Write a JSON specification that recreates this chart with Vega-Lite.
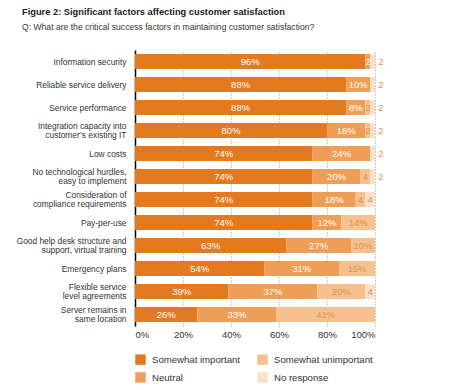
{
  "$schema": "https://vega.github.io/schema/vega-lite/v6.json",
  "width": 240,
  "height": 276,
  "autosize": {"type": "none"},
  "padding": {"left": 135, "top": 50, "right": 99, "bottom": 64},
  "background": "white",
  "config": {
    "font": "Liberation Sans",
    "view": {"stroke": null}
  },
  "title": {
    "text": "Figure 2: Significant factors affecting customer satisfaction",
    "subtitle": "Q: What are the critical success factors in maintaining customer satisfaction?",
    "anchor": "start",
    "frame": "group",
    "dx": -113,
    "offset": 18,
    "font": "Liberation Sans",
    "fontSize": 9.3,
    "fontWeight": "bold",
    "color": "#1a1a1a",
    "subtitleFont": "Liberation Sans",
    "subtitleFontSize": 8.6,
    "subtitleColor": "#333333",
    "subtitlePadding": 6
  },
  "data": {
    "values": [
      {"factor": "Information security", "response": "Somewhat important", "value": 96},
      {"factor": "Information security", "response": "Neutral", "value": 2},
      {"factor": "Information security", "response": "No response", "value": 2},
      {"factor": "Reliable service delivery", "response": "Somewhat important", "value": 88},
      {"factor": "Reliable service delivery", "response": "Neutral", "value": 10},
      {"factor": "Reliable service delivery", "response": "No response", "value": 2},
      {"factor": "Service performance", "response": "Somewhat important", "value": 88},
      {"factor": "Service performance", "response": "Neutral", "value": 8},
      {"factor": "Service performance", "response": "Somewhat unimportant", "value": 2},
      {"factor": "Service performance", "response": "No response", "value": 2},
      {"factor": "Integration capacity into\ncustomer’s existing IT", "response": "Somewhat important", "value": 80},
      {"factor": "Integration capacity into\ncustomer’s existing IT", "response": "Neutral", "value": 16},
      {"factor": "Integration capacity into\ncustomer’s existing IT", "response": "Somewhat unimportant", "value": 2},
      {"factor": "Integration capacity into\ncustomer’s existing IT", "response": "No response", "value": 2},
      {"factor": "Low costs", "response": "Somewhat important", "value": 74},
      {"factor": "Low costs", "response": "Neutral", "value": 24},
      {"factor": "Low costs", "response": "No response", "value": 2},
      {"factor": "No technological hurdles,\neasy to implement", "response": "Somewhat important", "value": 74},
      {"factor": "No technological hurdles,\neasy to implement", "response": "Neutral", "value": 20},
      {"factor": "No technological hurdles,\neasy to implement", "response": "Somewhat unimportant", "value": 4},
      {"factor": "No technological hurdles,\neasy to implement", "response": "No response", "value": 2},
      {"factor": "Consideration of\ncompliance requirements", "response": "Somewhat important", "value": 74},
      {"factor": "Consideration of\ncompliance requirements", "response": "Neutral", "value": 18},
      {"factor": "Consideration of\ncompliance requirements", "response": "Somewhat unimportant", "value": 4},
      {"factor": "Consideration of\ncompliance requirements", "response": "No response", "value": 4},
      {"factor": "Pay-per-use", "response": "Somewhat important", "value": 74},
      {"factor": "Pay-per-use", "response": "Neutral", "value": 12},
      {"factor": "Pay-per-use", "response": "Somewhat unimportant", "value": 14},
      {"factor": "Good help desk structure and\nsupport, virtual training", "response": "Somewhat important", "value": 63},
      {"factor": "Good help desk structure and\nsupport, virtual training", "response": "Neutral", "value": 27},
      {"factor": "Good help desk structure and\nsupport, virtual training", "response": "Somewhat unimportant", "value": 10},
      {"factor": "Emergency plans", "response": "Somewhat important", "value": 54},
      {"factor": "Emergency plans", "response": "Neutral", "value": 31},
      {"factor": "Emergency plans", "response": "Somewhat unimportant", "value": 15},
      {"factor": "Flexible service\nlevel agreements", "response": "Somewhat important", "value": 39},
      {"factor": "Flexible service\nlevel agreements", "response": "Neutral", "value": 37},
      {"factor": "Flexible service\nlevel agreements", "response": "Somewhat unimportant", "value": 20},
      {"factor": "Flexible service\nlevel agreements", "response": "No response", "value": 4},
      {"factor": "Server remains in\nsame location", "response": "Somewhat important", "value": 26},
      {"factor": "Server remains in\nsame location", "response": "Neutral", "value": 33},
      {"factor": "Server remains in\nsame location", "response": "Somewhat unimportant", "value": 41}
    ]
  },
  "transform": [
    {"calculate": "indexof(['Somewhat important', 'Neutral', 'Somewhat unimportant', 'No response'], datum.response)", "as": "rank"},
    {"calculate": "(datum.response == 'No response' && datum.value < 3) ? '' : (datum.value >= 8 ? datum.value + '%' : '' + datum.value)", "as": "label"}
  ],
  "encoding": {
    "y": {
      "field": "factor",
      "type": "nominal",
      "sort": null,
      "scale": {"paddingInner": 0.35, "paddingOuter": 0.175},
      "axis": {
        "title": null,
        "ticks": false,
        "domain": true,
        "domainColor": "#000000",
        "domainWidth": 1.5,
        "labelPadding": 9,
        "labelFontSize": 8.4,
        "labelColor": "#333333",
        "labelLimit": 220,
        "labelLineHeight": 9.8,
        "labelOffset": {"condition": {"test": "indexof(datum.value, '\\n') >= 0", "value": -4.9}, "value": 0},
        "labelExpr": "split(datum.label, '\\n')"
      }
    }
  },
  "layer": [
    {
      "mark": {"type": "bar"},
      "encoding": {
        "x": {
          "field": "value",
          "type": "quantitative",
          "stack": "zero",
          "scale": {"domain": [0, 100], "nice": false},
          "axis": {
            "title": null,
            "values": [0, 20, 40, 60, 80, 100],
            "labelExpr": "datum.value + '%'",
            "domain": false,
            "ticks": false,
            "grid": true,
            "gridDash": [1, 2],
            "gridColor": "#999999",
            "labelFontSize": 9.5,
            "labelColor": "#333333",
            "labelPadding": 3
          }
        },
        "color": {
          "field": "response",
          "type": "nominal",
          "scale": {
            "domain": ["Somewhat important", "Neutral", "Somewhat unimportant", "No response"],
            "range": ["#E47A1F", "#EE9E56", "#F6C18F", "#FBDFC6"]
          },
          "legend": {
            "title": null,
            "orient": "none",
            "legendX": 0,
            "legendY": 304,
            "columns": 2,
            "symbolType": "square",
            "symbolSize": 110,
            "symbolStrokeWidth": 0,
            "symbolOpacity": 1,
            "labelFontSize": 9.6,
            "labelColor": "#333333",
            "labelOffset": 6,
            "columnPadding": 17,
            "rowPadding": 7
          }
        },
        "order": {"field": "rank", "type": "quantitative"}
      }
    },
    {
      "mark": {"type": "text", "fontSize": 9.5, "baseline": "middle", "align": "center"},
      "encoding": {
        "x": {"field": "value", "type": "quantitative", "stack": "zero", "bandPosition": 0.5},
        "text": {"field": "label"},
        "order": {"field": "rank", "type": "quantitative"},
        "color": {
          "condition": {"test": "datum.rank >= 2", "value": "#DD9050"},
          "value": "#ffffff"
        }
      }
    },
    {
      "transform": [{"filter": "datum.response == 'No response' && datum.value < 3"}],
      "mark": {"type": "text", "fontSize": 9.5, "baseline": "middle", "align": "center", "dx": 6, "color": "#D9966A"},
      "encoding": {
        "x": {"datum": 100},
        "text": {"field": "value"}
      }
    }
  ]
}
